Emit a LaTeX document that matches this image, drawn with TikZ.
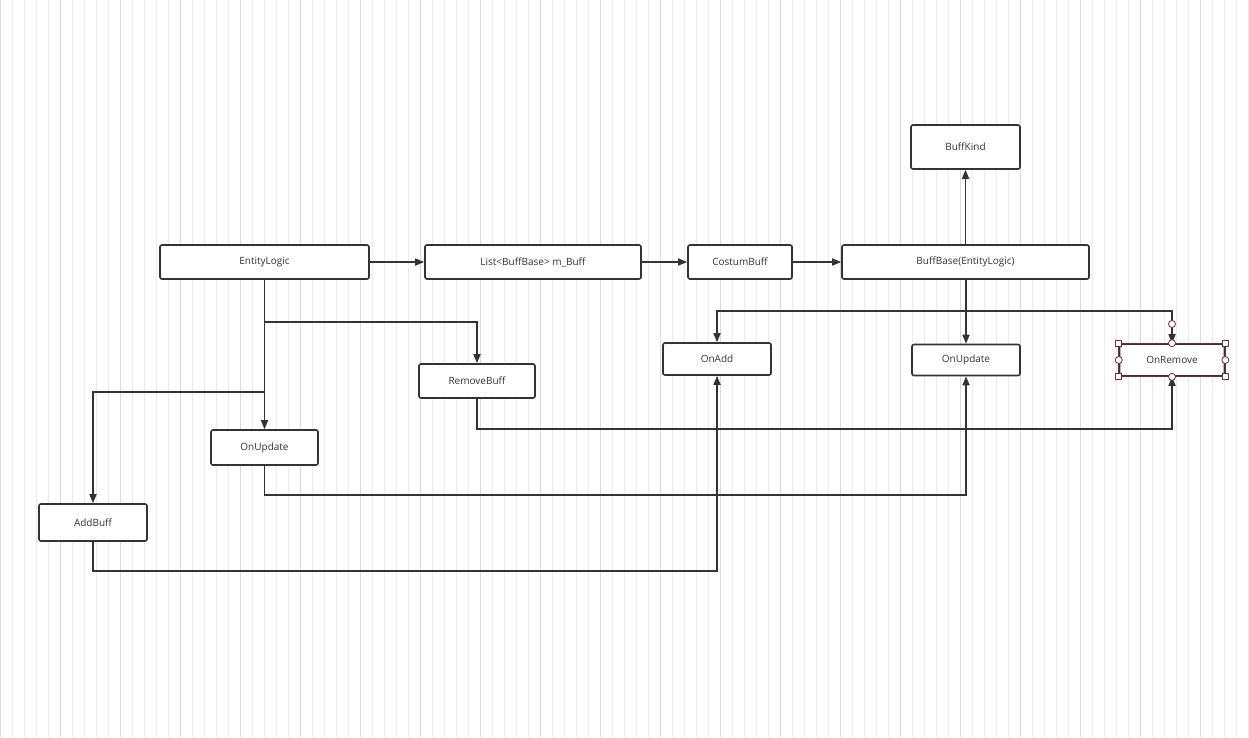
\documentclass[tikz,border=0pt]{standalone}
\usepackage{fontspec}
\setmainfont{Open Sans}
\usetikzlibrary{arrows.meta}
\definecolor{ln}{HTML}{333333}
\definecolor{sel}{HTML}{7A2A2A}
\begin{document}
\begin{tikzpicture}[x=1pt,y=-1pt,
  box/.style={draw=ln,line width=1.6pt,rounded corners=2pt,fill=white,inner sep=0pt,font=\fontsize{10}{12}\selectfont,text=ln},
  con/.style={draw=ln,line width=1.6pt,-{Triangle[length=9pt,width=7pt]}},
  hs/.style={draw=sel,fill=white,line width=0.8pt,minimum size=6pt,inner sep=0pt},
  hc/.style={hs,circle,minimum size=7pt}]
\useasboundingbox (0,0) rectangle (1249,737);
\fill[white] (0,0) rectangle (1249,737);
\draw[black!8,line width=0.5pt,step=12] (0,0) grid (1249,737);
\draw[black!14,line width=0.6pt,step=60] (0,0) grid (1249,737);
\node[box,minimum width=209,minimum height=34] (el) at (264.5,262) {EntityLogic};
\node[box,minimum width=216,minimum height=34] (lst) at (533,262) {List<BuffBase> m\_Buff};
\node[box,minimum width=104,minimum height=34] (cb) at (740,262) {CostumBuff};
\node[box,minimum width=247,minimum height=34] (bb) at (965.5,262) {BuffBase(EntityLogic)};
\node[box,minimum width=109,minimum height=44] (bk) at (965.5,147) {BuffKind};
\node[box,minimum width=108,minimum height=32] (oa) at (717,359) {OnAdd};
\node[box,minimum width=108,minimum height=31] (our) at (966,360) {OnUpdate};
\node[box,minimum width=105,minimum height=32] (orm) at (1172,360) {OnRemove};
\node[box,minimum width=116,minimum height=34] (rb) at (477,381) {RemoveBuff};
\node[box,minimum width=107,minimum height=35] (oul) at (264.5,447.5) {OnUpdate};
\node[box,minimum width=108,minimum height=37] (ab) at (93,522.5) {AddBuff};
\draw[con] (el) -- (lst);
\draw[con] (lst) -- (cb);
\draw[con] (cb) -- (bb);
\draw[con] (bb.north-|bk) -- (bk);
\draw[con] (bb.south-|our) -- (our);
\coordinate (j1) at (965.5,311);
\draw[con] (j1) -| (oa.north);
\draw[con] (j1) -| (orm.north);
\draw[con] (el.south) -- (oul.north);
\coordinate (j2) at (264.5,322);
\draw[con] (j2) -| (rb.north);
\coordinate (j3) at (264.5,392);
\draw[con] (j3) -| (ab.north);
\draw[con] (rb.south) |- (1172,429) -- (orm.south);
\draw[con] (oul.south) |- (966,495) -- (our.south);
\draw[con] (ab.south) |- (717,571) -- (oa.south);
\draw[sel,line width=0.8pt] (orm.north west) rectangle (orm.south east);
\foreach \a in {north west,north east,south west,south east} \node[hs] at (orm.\a) {};
\foreach \a in {north,south,east,west} \node[hc] at (orm.\a) {};
\node[hc] at (1172,324) {};
\end{tikzpicture}
\end{document}
